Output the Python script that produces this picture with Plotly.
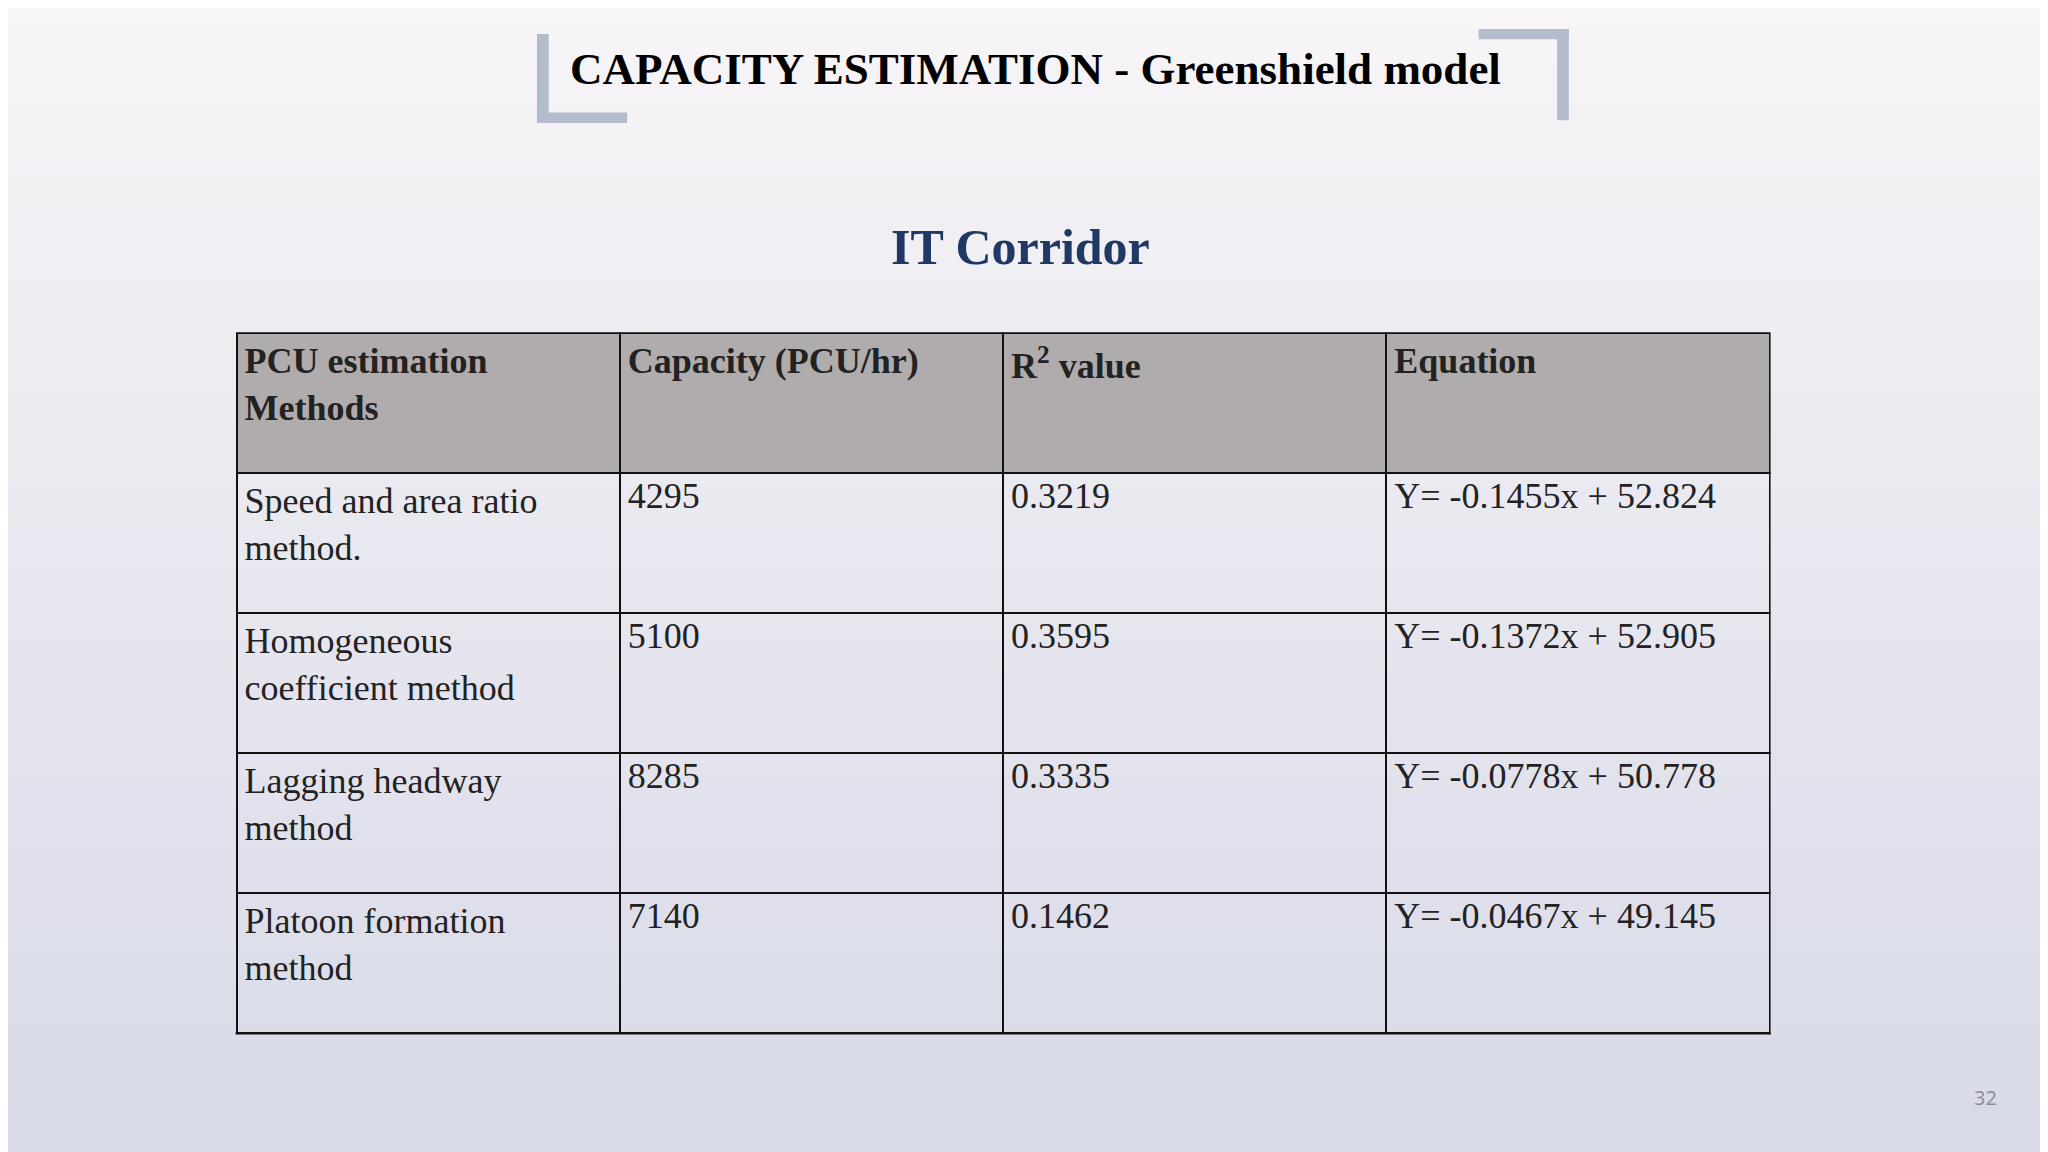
import plotly.graph_objects as go

headers = ["PCU estimation<br>Methods", "Capacity (PCU/hr)", "R<sup>2</sup> value", "Equation"]
methods = ["Speed and area ratio<br>method.", "Homogeneous<br>coefficient method",
           "Lagging headway<br>method", "Platoon formation<br>method"]
capacity = ["4295", "5100", "8285", "7140"]
r2 = ["0.3219", "0.3595", "0.3335", "0.1462"]
equations = ["Y= -0.1455x + 52.824", "Y= -0.1372x + 52.905",
             "Y= -0.0778x + 50.778", "Y= -0.0467x + 49.145"]

W, H = 2048, 1152
fig = go.Figure()

n = 60
shapes = []
for i in range(n):
    t = i / (n - 1)
    c0 = (248, 245, 247); c1 = (216, 218, 233)
    col = tuple(int(c0[k] + (c1[k] - c0[k]) * t) for k in range(3))
    shapes.append(dict(type="rect", xref="paper", yref="paper", x0=0, x1=1,
                       y0=1 - (i + 1) / n, y1=1 - i / n + 0.001, line_width=0,
                       fillcolor="rgb(%d,%d,%d)" % col, layer="below"))

s = W / 1568
def px(x0, y0, x1, y1, color="#b3bccd"):
    return dict(type="rect", xref="paper", yref="paper",
                x0=x0 * s / W, x1=x1 * s / W, y0=1 - y1 * s / H, y1=1 - y0 * s / H,
                line_width=0, fillcolor=color)
shapes += [px(405, 20, 414, 88), px(405, 80, 474, 88),
           px(1126, 16, 1195, 24), px(1186, 16, 1195, 86)]

y_bot = 1 - 786 / 882
y_top = 1 - 249 / 882
# bottom border of the table (otherwise clipped)
shapes.append(dict(type="line", xref="paper", yref="paper",
                   x0=175 / 1568 - 0.0005, x1=1349 / 1568 + 0.0005, y0=y_bot + 0.001, y1=y_bot + 0.001,
                   line=dict(color="#111", width=2)))

fig.add_trace(go.Table(
    domain=dict(x=[175 / 1568, 1349 / 1568], y=[y_bot - 0.01, y_top]),
    columnwidth=[1, 1, 1, 1],
    header=dict(values=["<b>%s</b>" % h for h in headers], height=140,
                fill_color="#b0acad", line=dict(color="#111", width=2),
                align="left", font=dict(family="Liberation Serif", size=36, color="#222")),
    cells=dict(values=[methods, capacity, r2, equations], height=140,
               fill_color="rgba(0,0,0,0)", line=dict(color="#111", width=2),
               align="left", font=dict(family="Liberation Serif", size=36, color="#222")),
))

fig.update_layout(
    width=W, height=H, margin=dict(l=0, r=0, t=0, b=0),
    paper_bgcolor="#f0eef3", plot_bgcolor="rgba(0,0,0,0)", shapes=shapes,
    annotations=[
        dict(text="<b>CAPACITY ESTIMATION - Greenshield model</b>", x=787 / 1568, y=1 - 26 / 882,
             xref="paper", yref="paper", showarrow=False,
             font=dict(family="Liberation Serif", size=45, color="#000")),
        dict(text="<b>IT Corridor</b>", x=775 / 1568, y=1 - 160 / 882,
             xref="paper", yref="paper", showarrow=False,
             font=dict(family="Liberation Serif", size=50, color="#1f3864")),
        dict(text="32", x=1524 / 1568, y=1 - 846 / 882, xref="paper", yref="paper",
             showarrow=False, font=dict(family="Open Sans", size=20, color="#8a8a9a")),
    ],
)
fig.write_html("out.html")
